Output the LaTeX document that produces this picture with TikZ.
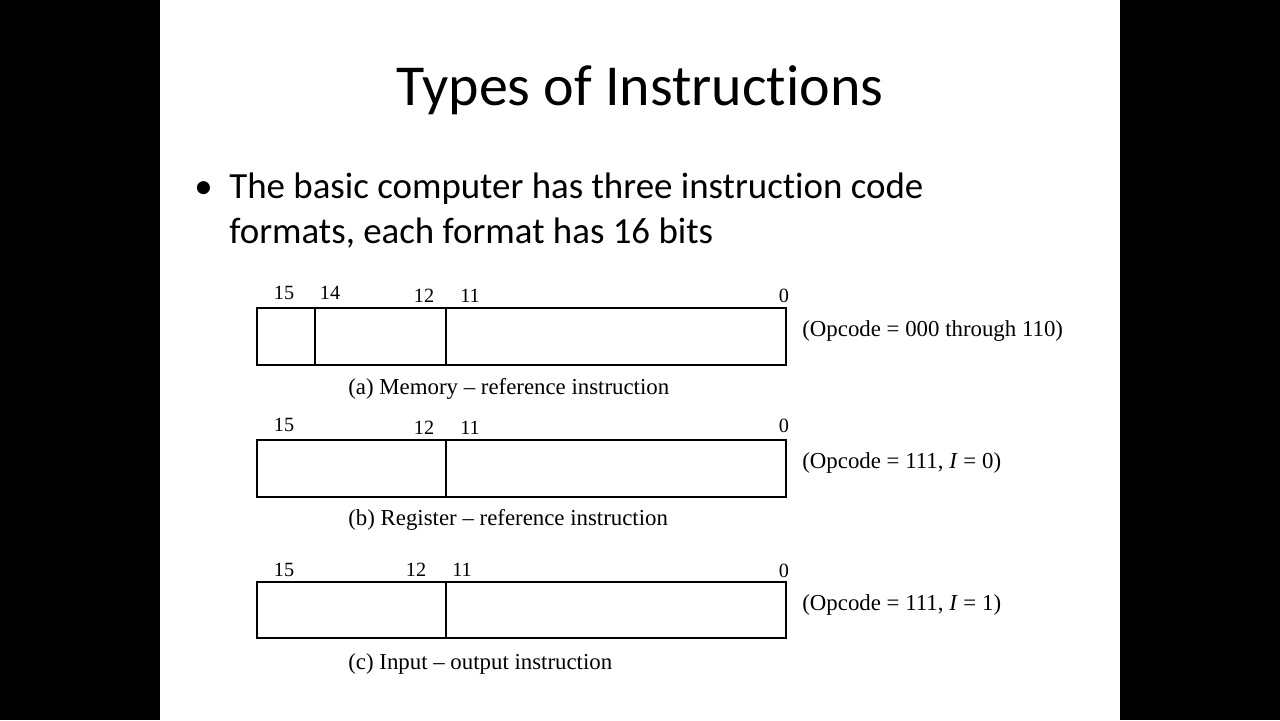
\documentclass[tikz,border=0pt]{standalone}
\usepackage{fontspec}
\setmainfont{Liberation Serif}
\newfontfamily\slidefont[Ligatures=NoCommon]{Carlito}
\begin{document}
\begin{tikzpicture}[x=0.02cm,y=-0.02cm,
  fld/.style={draw,line width=0.6pt,inner sep=0pt},
  bit/.style={font=\fontsize{11.5}{13}\selectfont,anchor=base},
  captext/.style={font=\fontsize{13}{15}\selectfont,anchor=base west,inner sep=0pt},
  title/.style={font=\slidefont\fontsize{33}{38}\selectfont},
  body/.style={font=\slidefont\fontsize{21}{25.5}\selectfont,anchor=base west,inner sep=0pt}]
\useasboundingbox (0,0) rectangle (1280,720);
\fill[black] (0,0) rectangle (160,720);
\fill[black] (1120,0) rectangle (1280,720);
\node[title] (t) at (640,90) {Types of Instructions};
\node[body] (b0) at (194,198) {\textbullet};
\node[body] (b1) at (229,198) {The basic computer has three instruction code};
\node[body] (b2) at (229,243) {formats, each format has 16 bits};
% (a)
\draw[fld] (257,308) rectangle (786,365);
\draw[fld] (315,308) -- (315,365);
\draw[fld] (446,308) -- (446,365);
\node[bit] (a15) at (284,299) {15};
\node[bit] (a14) at (330,299) {14};
\node[bit] (a12) at (424,302) {12};
\node[bit] (a11) at (470,302) {11};
\node[bit] (a0) at (784,302) {0};
\node[captext] (ao) at (802,336) {(Opcode = 000 through 110)};
\node[captext] (ac) at (348,394) {(a) Memory -- reference instruction};
% (b)
\draw[fld] (257,440) rectangle (786,497);
\draw[fld] (446,440) -- (446,497);
\node[bit] (b15) at (284,431) {15};
\node[bit] (b12) at (424,434) {12};
\node[bit] (b11) at (470,434) {11};
\node[bit] (bz) at (784,432) {0};
\node[captext] (bo) at (802,468) {(Opcode = 111, \textit{I} = 0)};
\node[captext] (bc) at (348,525) {(b) Register -- reference instruction};
% (c)
\draw[fld] (257,582) rectangle (786,638);
\draw[fld] (446,582) -- (446,638);
\node[bit] (c15) at (284,576) {15};
\node[bit] (c12) at (416,576) {12};
\node[bit] (c11) at (462,576) {11};
\node[bit] (cz) at (784,577) {0};
\node[captext] (co) at (802,610) {(Opcode = 111, \textit{I} = 1)};
\node[captext] (cc) at (348,669) {(c) Input -- output instruction};
\end{tikzpicture}
\end{document}
